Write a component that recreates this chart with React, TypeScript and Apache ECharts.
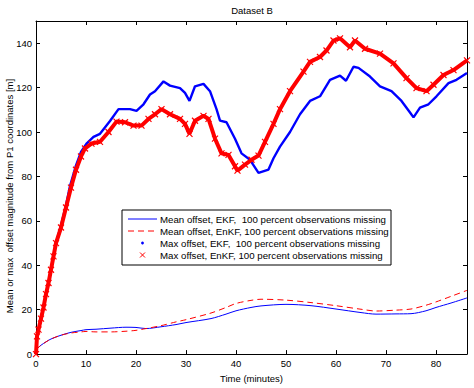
import React, { useEffect, useRef } from "react";
import * as echarts from "echarts";

// ---- Data ----
const tMeanEKF = [0, 1, 2, 3, 5, 7, 9, 10, 12, 15, 18, 20, 22, 25, 28, 30, 35, 38, 40, 43, 45, 50, 55, 60, 65, 68, 72, 75, 78, 80, 83, 86.2];
const vMeanEKF = [2, 4, 5.5, 6.8, 8.5, 9.8, 10.6, 11, 11.2, 11.7, 12.1, 12, 11.5, 12.3, 13.3, 14.2, 16, 18, 19.5, 21, 21.7, 22.4, 21.8, 20.3, 18.7, 18, 18.1, 18.2, 19.5, 21, 23, 25.3];

const tMeanEnKF = [0, 1, 2, 3, 5, 7, 9, 10, 12, 15, 18, 20, 22, 25, 28, 30, 35, 38, 40, 43, 45, 50, 55, 60, 65, 68, 72, 75, 78, 80, 83, 86.2];
const vMeanEnKF = [2, 4, 5.5, 6.8, 8.5, 9.5, 10, 10.2, 10, 10, 10.3, 10.7, 11.5, 12.8, 14.5, 15.5, 18.5, 21, 22.8, 24.2, 24.7, 24.3, 23.2, 21.8, 20.2, 19.4, 19.8, 20.3, 22, 23.5, 26, 28.7];

const tMaxEKF = [0, 0.2, 0.5, 1, 1.5, 2, 2.5, 3, 3.5, 4, 5, 6, 6.8, 8, 9, 10.1, 11.5, 12.8, 14.8, 16.5, 18.8, 20.1, 21.5, 22.8, 23.8, 25.5, 26.8, 28.8, 29.8, 30.7, 31.8, 33.5, 34.8, 36.1, 36.8, 38.1, 39.8, 41.1, 42.8, 44.5, 46.5, 47.5, 48.8, 50.8, 52.8, 54.8, 56.8, 58.8, 60.8, 62, 63.5, 64.5, 66.8, 68.8, 71.1, 73.1, 74.8, 75.5, 76.8, 78.5, 80.1, 82.5, 84.1, 86.2];
const vMaxEKF = [0, 8, 11, 16, 21, 27, 32, 38, 44, 50, 58, 67, 75.7, 85, 91, 94.8, 97.8, 99.2, 105, 110.3, 110.3, 109.5, 112.5, 116.9, 118.4, 122.8, 120.9, 119.8, 117.6, 114, 120.6, 121.7, 118.4, 110.3, 105.1, 104.4, 97, 90.4, 87.5, 81.6, 83.1, 88.2, 93.4, 100, 108, 114, 116.1, 123.5, 125.4, 123.1, 129.4, 128.9, 125, 120.6, 118.4, 114, 108.8, 106.6, 111, 112.5, 116.1, 122, 123.5, 126.6];

const tMaxEnKF = [0, 0.2, 0.5, 1, 1.5, 2, 2.5, 3, 3.5, 4, 5, 6, 7, 8, 9, 9.8, 11.1, 12.8, 14.5, 16.1, 17.8, 19.5, 21.1, 22.5, 23.8, 25.1, 26.8, 28.8, 29.8, 30.7, 31.8, 33.5, 34.5, 35.8, 37.1, 38.5, 39.8, 40.3, 41.8, 43.1, 44.5, 45.8, 47.5, 48.8, 50.8, 53.5, 54.8, 56.8, 58.1, 59.5, 60.8, 62.8, 63.8, 65.8, 68.8, 71.5, 74.1, 76.1, 78.1, 79.5, 81.5, 83.5, 86.2];
const vMaxEnKF = [0, 8, 11, 16, 21, 27, 32, 38, 44, 50, 57, 66, 75, 83, 89, 92.6, 94.8, 95.6, 100, 104.7, 104.4, 102.9, 102.9, 105.9, 108, 110.3, 108, 105.9, 103.7, 99.2, 105.1, 107.3, 105.9, 97, 90.4, 89.7, 84.6, 82.6, 85.3, 87.5, 89.4, 95.6, 103.7, 110.3, 118.4, 127.2, 131.6, 133.8, 136.7, 141.2, 142.2, 138.2, 141.2, 137.5, 135.3, 130.9, 124.3, 119.8, 118.4, 121.3, 125.7, 127.9, 132.3];

const seriesNames = [
  "Mean offset, EKF,  100 percent observations missing",
  "Mean offset, EnKF, 100 percent observations missing",
  "Max offset, EKF,  100 percent observations missing",
  "Max offset, EnKF, 100 percent observations missing",
];

const titleText = "Dataset B";
const xAxisTitle = "Time (minutes)";
const yAxisTitle = "Mean or max  offset magnitude from P1 coordinates [m]";

const X_MIN = 0;
const X_MAX = 86.2;
const X_INTERVAL = 10;
const Y_MIN = 0;
const Y_MAX = 150;
const Y_INTERVAL = 20;

const pairs = (t: number[], v: number[]) => t.map((x, i) => [x, v[i]]);

const FONT = "'Liberation Sans', Arial, Helvetica, sans-serif";
const BLUE = "#0000ff";
const RED = "#ff0000";

export default function App() {
  const ref = useRef<HTMLDivElement>(null);

  useEffect(() => {
    document.body.style.margin = "0";
    if (!ref.current) return;
    const chart = echarts.init(ref.current, undefined, { renderer: "svg" });

    const axisCommon = {
      axisLine: { show: true, onZero: false, lineStyle: { color: "#000", width: 1 } },
      axisTick: { show: true, inside: true, length: 4, lineStyle: { color: "#000" } },
      splitLine: { show: false },
    };

    const legendX = 122;
    const legendY = 210;
    const legendW = 269;
    const legendH = 55;
    const rowY = [219, 231, 243, 255];
    const lineX0 = 128;
    const lineX1 = 157;
    const markX = 142.5;
    const textX = 160;

    const legendGraphics: any[] = [
      {
        type: "rect",
        shape: { x: legendX, y: legendY, width: legendW, height: legendH },
        style: { fill: "#fff", stroke: "#000", lineWidth: 1 },
        z: 100,
      },
      {
        type: "line",
        shape: { x1: lineX0, y1: rowY[0], x2: lineX1, y2: rowY[0] },
        style: { stroke: BLUE, lineWidth: 1 },
        z: 101,
      },
      {
        type: "line",
        shape: { x1: lineX0, y1: rowY[1], x2: lineX1, y2: rowY[1] },
        style: { stroke: RED, lineWidth: 1, lineDash: [6, 4] },
        z: 101,
      },
      {
        type: "circle",
        shape: { cx: markX, cy: rowY[2], r: 1.4 },
        style: { fill: BLUE },
        z: 101,
      },
      {
        type: "line",
        shape: { x1: markX - 2.5, y1: rowY[3] - 2.5, x2: markX + 2.5, y2: rowY[3] + 2.5 },
        style: { stroke: RED, lineWidth: 1 },
        z: 101,
      },
      {
        type: "line",
        shape: { x1: markX - 2.5, y1: rowY[3] + 2.5, x2: markX + 2.5, y2: rowY[3] - 2.5 },
        style: { stroke: RED, lineWidth: 1 },
        z: 101,
      },
      ...seriesNames.map((name, i) => ({
        type: "text",
        x: textX,
        y: rowY[i],
        style: {
          text: name,
          fill: "#000",
          font: `9.7px ${FONT}`,
          align: "left",
          verticalAlign: "middle",
        },
        z: 101,
      })),
    ];

    const option: any = {
      animation: false,
      backgroundColor: "#fff",
      grid: { left: 36, top: 21, right: 7, bottom: 28, containLabel: false },
      xAxis: [
        {
          type: "value",
          min: X_MIN,
          max: X_MAX,
          interval: X_INTERVAL,
          position: "bottom",
          ...axisCommon,
          axisLabel: {
            color: "#000",
            fontSize: 9.5,
            fontFamily: FONT,
            margin: 4,
            showMaxLabel: false,
          },
          name: xAxisTitle,
          nameLocation: "middle",
          nameGap: 15,
          nameTextStyle: { color: "#000", fontSize: 9.5, fontFamily: FONT },
        },
        {
          type: "value",
          min: X_MIN,
          max: X_MAX,
          interval: X_INTERVAL,
          position: "top",
          ...axisCommon,
          axisLabel: { show: false },
        },
      ],
      yAxis: [
        {
          type: "value",
          min: Y_MIN,
          max: Y_MAX,
          interval: Y_INTERVAL,
          position: "left",
          ...axisCommon,
          axisLabel: {
            color: "#000",
            fontSize: 9.5,
            fontFamily: FONT,
            margin: 4,
            showMaxLabel: false,
          },
        },
        {
          type: "value",
          min: Y_MIN,
          max: Y_MAX,
          interval: Y_INTERVAL,
          position: "right",
          ...axisCommon,
          axisLabel: { show: false },
        },
      ],
      series: [
        {
          name: seriesNames[0],
          type: "line",
          data: pairs(tMeanEKF, vMeanEKF),
          smooth: 0.3,
          showSymbol: false,
          lineStyle: { color: BLUE, width: 1 },
          itemStyle: { color: BLUE },
          z: 2,
        },
        {
          name: seriesNames[1],
          type: "line",
          data: pairs(tMeanEnKF, vMeanEnKF),
          smooth: 0.3,
          showSymbol: false,
          lineStyle: { color: RED, width: 1, type: [6, 4] },
          itemStyle: { color: RED },
          z: 3,
        },
        {
          name: seriesNames[2],
          type: "line",
          data: pairs(tMaxEKF, vMaxEKF),
          showSymbol: false,
          lineStyle: { color: BLUE, width: 2.4 },
          itemStyle: { color: BLUE },
          z: 4,
        },
        {
          name: seriesNames[3],
          type: "line",
          data: pairs(tMaxEnKF, vMaxEnKF),
          symbol: "path://M0,0L10,10M10,0L0,10",
          symbolSize: 6,
          showSymbol: true,
          lineStyle: { color: RED, width: 4 },
          itemStyle: { color: "transparent", borderColor: RED, borderWidth: 1.2 },
          z: 5,
        },
      ],
      graphic: [
        {
          type: "text",
          x: 252,
          y: 10,
          style: {
            text: titleText,
            fill: "#000",
            font: `9.5px ${FONT}`,
            align: "center",
            verticalAlign: "middle",
          },
        },
        {
          type: "text",
          x: 9,
          y: 196,
          rotation: Math.PI / 2,
          style: {
            text: yAxisTitle,
            fill: "#000",
            font: `9.5px ${FONT}`,
            align: "center",
            verticalAlign: "middle",
          },
        },
        ...legendGraphics,
      ],
    };

    chart.setOption(option);
    return () => {
      chart.dispose();
    };
  }, []);

  return <div ref={ref} style={{ width: 474, height: 388 }} />;
}
